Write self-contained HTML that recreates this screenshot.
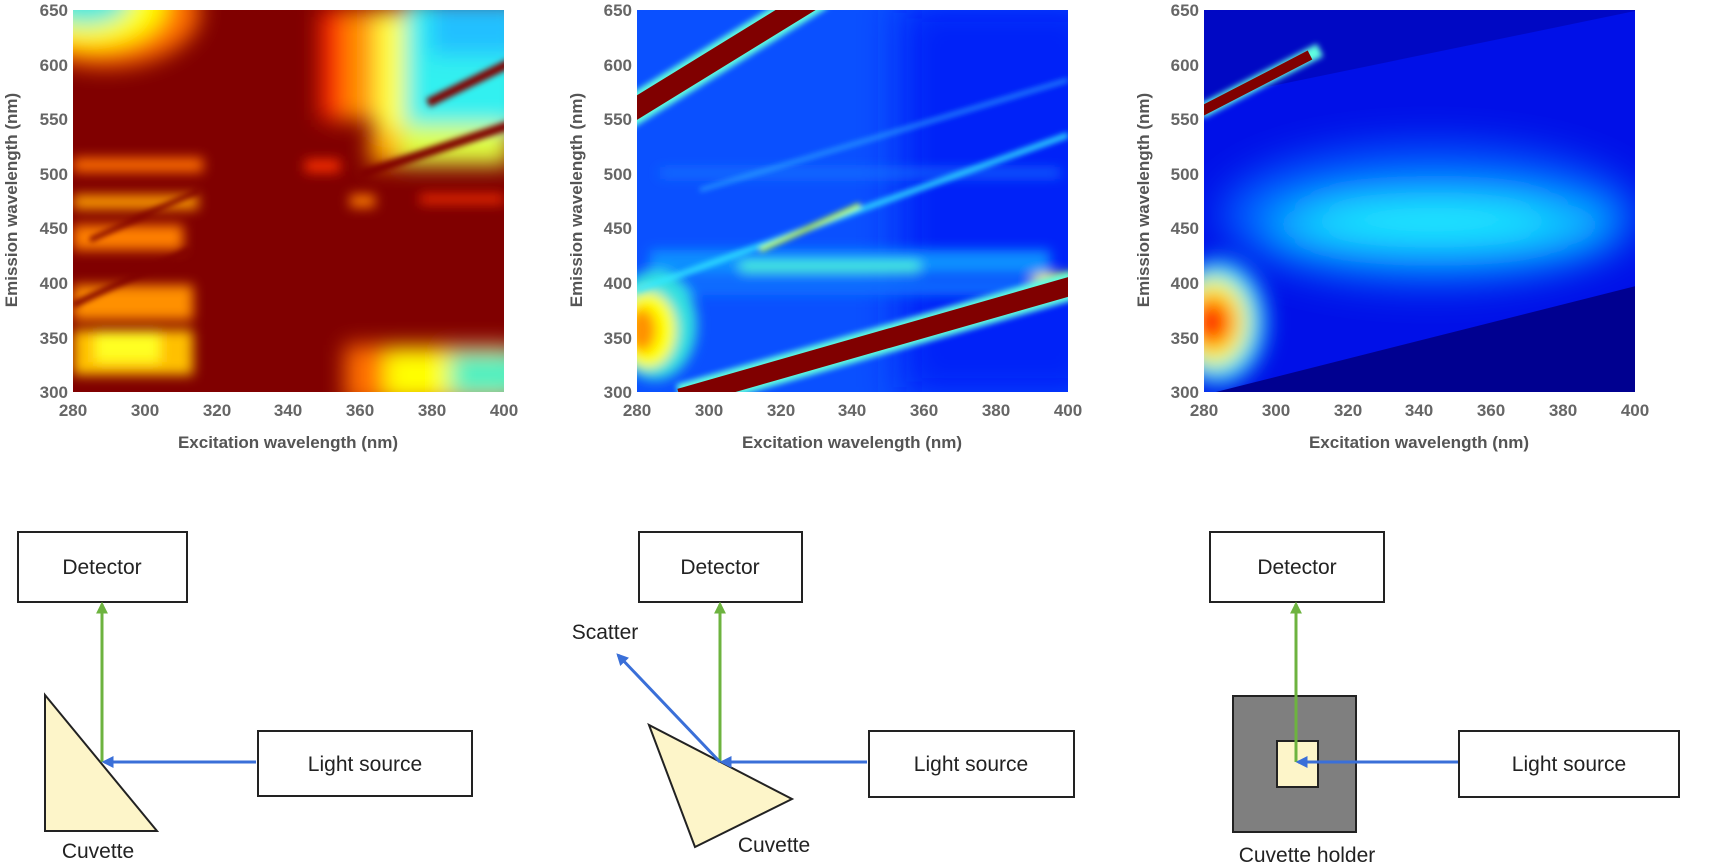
<!DOCTYPE html>
<html><head><meta charset="utf-8"><style>
html,body{margin:0;padding:0;background:#fff;}
svg{display:block;}
.t{font-family:"Liberation Sans",sans-serif;font-size:17px;fill:#666;font-weight:bold;}
.a{font-family:"Liberation Sans",sans-serif;font-size:17px;fill:#555;font-weight:bold;}
.d{font-family:"Liberation Sans",sans-serif;font-size:21px;fill:#222;}
</style></head><body>
<svg width="1716" height="868" viewBox="0 0 1716 868" xmlns="http://www.w3.org/2000/svg">
<defs>
<filter id="b6" x="-50%" y="-50%" width="200%" height="200%"><feGaussianBlur stdDeviation="6"/></filter>
<filter id="b3" x="-50%" y="-50%" width="200%" height="200%"><feGaussianBlur stdDeviation="3"/></filter>
<filter id="b12" x="-50%" y="-50%" width="200%" height="200%"><feGaussianBlur stdDeviation="11"/></filter>
<filter id="b20" x="-50%" y="-50%" width="200%" height="200%"><feGaussianBlur stdDeviation="20"/></filter>
<clipPath id="c1"><rect x="73" y="10" width="431" height="382"/></clipPath>
<clipPath id="c2"><rect x="637" y="10" width="431" height="382"/></clipPath>
<clipPath id="c3"><rect x="1204" y="10" width="431" height="382"/></clipPath>
<marker id="ag" viewBox="0 0 10 10" refX="8" refY="5" markerWidth="4" markerHeight="4" orient="auto"><path d="M0,0L10,5L0,10z" fill="#6db33f"/></marker>
<marker id="ab" viewBox="0 0 10 10" refX="8" refY="5" markerWidth="4" markerHeight="4" orient="auto"><path d="M0,0L10,5L0,10z" fill="#3a6fd8"/></marker>
</defs>

<!-- Plot 1 -->
<g clip-path="url(#c1)">
<rect x="73" y="10" width="431" height="382" fill="#800000"/>
<g filter="url(#b12)">
<ellipse cx="105" cy="12" rx="95" ry="55" fill="#ff7000"/>
<ellipse cx="95" cy="5" rx="72" ry="42" fill="#ffff00"/>
<ellipse cx="85" cy="0" rx="45" ry="25" fill="#40e8e0"/>
<rect x="320" y="10" width="60" height="110" fill="#ff3000"/>
<rect x="345" y="10" width="50" height="110" fill="#ff9000"/>
<rect x="375" y="10" width="40" height="120" fill="#ffff40"/>
<rect x="405" y="0" width="120" height="130" fill="#30f0f0"/>
<rect x="430" y="0" width="90" height="55" fill="#20c0ff"/>
<rect x="370" y="130" width="140" height="35" fill="#ffb000"/>
<rect x="400" y="125" width="110" height="40" fill="#e0ff40"/>
<rect x="345" y="345" width="170" height="60" fill="#ff7000"/>
<rect x="385" y="350" width="130" height="50" fill="#ffff00"/>
<rect x="450" y="352" width="80" height="45" fill="#50f0c0"/>
</g>
<g filter="url(#b6)">
<rect x="73" y="158" width="130" height="14" fill="#ff7000"/>
<rect x="73" y="195" width="125" height="14" fill="#ffa000"/>
<rect x="73" y="225" width="110" height="25" fill="#ff8000"/>
<rect x="73" y="285" width="120" height="35" fill="#ff9000"/>
<rect x="73" y="330" width="120" height="45" fill="#ffc000"/>
<rect x="95" y="332" width="65" height="30" fill="#ffff20"/>
<rect x="305" y="160" width="35" height="12" fill="#ff3000"/>
<rect x="350" y="195" width="25" height="12" fill="#ff8000"/>
<rect x="420" y="195" width="84" height="8" fill="#ff3000"/>
</g>
<g filter="url(#b3)">
<line x1="428" y1="103" x2="510" y2="63" stroke="#800000" stroke-width="9"/>
<line x1="360" y1="175" x2="510" y2="125" stroke="#800000" stroke-width="9"/>
<line x1="73" y1="305" x2="190" y2="250" stroke="#800000" stroke-width="6"/>
<line x1="90" y1="240" x2="200" y2="190" stroke="#800000" stroke-width="5"/>
</g>
</g>

<!-- Plot 2 -->
<g clip-path="url(#c2)">
<rect x="637" y="10" width="431" height="382" fill="#0a50ff"/>
<g filter="url(#b20)"><rect x="900" y="0" width="200" height="400" fill="#0020f8"/></g>
<g filter="url(#b6)">
<rect x="650" y="250" width="400" height="25" fill="#1090ff"/>
<rect x="740" y="262" width="180" height="10" fill="#50ffd0"/>
<rect x="650" y="280" width="400" height="15" fill="#0a70ff"/>
<rect x="660" y="170" width="400" height="6" fill="#1a80ff"/>
<ellipse cx="655" cy="325" rx="42" ry="55" fill="#30e0e0"/>
<ellipse cx="648" cy="330" rx="28" ry="38" fill="#ffff00"/>
<ellipse cx="642" cy="330" rx="14" ry="22" fill="#ff9000"/>
<ellipse cx="1055" cy="280" rx="25" ry="6" fill="#ffff00"/>
</g>
<g filter="url(#b3)">
<line x1="637" y1="290" x2="1068" y2="135" stroke="#30e8ff" stroke-width="5"/>
<line x1="760" y1="250" x2="860" y2="205" stroke="#c0ff40" stroke-width="5"/>
<line x1="700" y1="190" x2="1068" y2="80" stroke="#30b0ff" stroke-width="3"/>
<line x1="620" y1="118" x2="820" y2="-5" stroke="#60ffe0" stroke-width="30"/>
<line x1="680" y1="398" x2="1075" y2="285" stroke="#60ffe0" stroke-width="28"/>
</g>
<line x1="620" y1="118" x2="820" y2="-5" stroke="#800000" stroke-width="21"/>
<line x1="680" y1="398" x2="1075" y2="285" stroke="#800000" stroke-width="19"/>
</g>

<!-- Plot 3 -->
<g clip-path="url(#c3)">
<rect x="1204" y="10" width="431" height="382" fill="#0010e8"/>
<g filter="url(#b20)">
<ellipse cx="1430" cy="215" rx="210" ry="70" fill="#0060ff"/>
<ellipse cx="1440" cy="225" rx="170" ry="32" fill="#10c8ff"/>
<ellipse cx="1430" cy="218" rx="120" ry="18" fill="#20f0ff"/>
</g>
<g filter="url(#b12)">
<ellipse cx="1218" cy="322" rx="48" ry="62" fill="#20e0ff"/>
<ellipse cx="1214" cy="322" rx="34" ry="44" fill="#ffff00"/>
<ellipse cx="1212" cy="322" rx="22" ry="26" fill="#ff2000"/>
</g>
<polygon points="1204,395 1640,285 1640,395" fill="#000090"/>
<polygon points="1204,10 1640,10 1204,100" fill="#000098" opacity="0.45"/>
<g filter="url(#b3)"><line x1="1200" y1="112" x2="1320" y2="50" stroke="#60ffe0" stroke-width="14"/></g>
<line x1="1200" y1="112" x2="1310" y2="55" stroke="#800000" stroke-width="10"/>
</g>

<g class="t" text-anchor="end">
<text x="68" y="16">650</text><text x="68" y="71">600</text><text x="68" y="125">550</text><text x="68" y="180">500</text><text x="68" y="234">450</text><text x="68" y="289">400</text><text x="68" y="344">350</text><text x="68" y="398">300</text>
<text x="632" y="16">650</text><text x="632" y="71">600</text><text x="632" y="125">550</text><text x="632" y="180">500</text><text x="632" y="234">450</text><text x="632" y="289">400</text><text x="632" y="344">350</text><text x="632" y="398">300</text>
<text x="1199" y="16">650</text><text x="1199" y="71">600</text><text x="1199" y="125">550</text><text x="1199" y="180">500</text><text x="1199" y="234">450</text><text x="1199" y="289">400</text><text x="1199" y="344">350</text><text x="1199" y="398">300</text>
</g>
<g class="t" text-anchor="middle">
<text x="73" y="416">280</text><text x="145" y="416">300</text><text x="217" y="416">320</text><text x="288" y="416">340</text><text x="360" y="416">360</text><text x="432" y="416">380</text><text x="504" y="416">400</text>
<text x="637" y="416">280</text><text x="709" y="416">300</text><text x="781" y="416">320</text><text x="852" y="416">340</text><text x="924" y="416">360</text><text x="996" y="416">380</text><text x="1068" y="416">400</text>
<text x="1204" y="416">280</text><text x="1276" y="416">300</text><text x="1348" y="416">320</text><text x="1419" y="416">340</text><text x="1491" y="416">360</text><text x="1563" y="416">380</text><text x="1635" y="416">400</text>
</g>
<g class="a" text-anchor="middle">
<text x="288" y="448">Excitation wavelength (nm)</text>
<text x="852" y="448">Excitation wavelength (nm)</text>
<text x="1419" y="448">Excitation wavelength (nm)</text>
<text transform="translate(17,200) rotate(-90)">Emission wavelength (nm)</text>
<text transform="translate(582,200) rotate(-90)">Emission wavelength (nm)</text>
<text transform="translate(1149,200) rotate(-90)">Emission wavelength (nm)</text>
</g>

<g stroke="#222" stroke-width="2" fill="#fff">
<rect x="18" y="532" width="169" height="70"/>
<rect x="258" y="731" width="214" height="65"/>
<polygon points="45,695 45,831 157,831" fill="#fdf5c9"/>
<rect x="639" y="532" width="163" height="70"/>
<rect x="869" y="731" width="205" height="66"/>
<polygon points="649,725 695,847 792,799" fill="#fdf5c9"/>
<rect x="1210" y="532" width="174" height="70"/>
<rect x="1459" y="731" width="220" height="66"/>
<rect x="1233" y="696" width="123" height="136" fill="#7f7f7f"/>
<rect x="1277" y="741" width="41" height="46" fill="#fdf5c9"/>
</g>
<g stroke-width="3" fill="none">
<line x1="102" y1="762" x2="102" y2="604" stroke="#6db33f" marker-end="url(#ag)"/>
<line x1="256" y1="762" x2="104" y2="762" stroke="#3a6fd8" marker-end="url(#ab)"/>
<line x1="720" y1="762" x2="720" y2="604" stroke="#6db33f" marker-end="url(#ag)"/>
<line x1="867" y1="762" x2="722" y2="762" stroke="#3a6fd8" marker-end="url(#ab)"/>
<line x1="720" y1="762" x2="618" y2="655" stroke="#3a6fd8" marker-end="url(#ab)"/>
<line x1="1296" y1="762" x2="1296" y2="604" stroke="#6db33f" marker-end="url(#ag)"/>
<line x1="1458" y1="762" x2="1298" y2="762" stroke="#3a6fd8" marker-end="url(#ab)"/>
</g>
<g class="d" text-anchor="middle">
<text x="102" y="574">Detector</text>
<text x="365" y="771">Light source</text>
<text x="98" y="858">Cuvette</text>
<text x="720" y="574">Detector</text>
<text x="971" y="771">Light source</text>
<text x="774" y="852">Cuvette</text>
<text x="605" y="639">Scatter</text>
<text x="1297" y="574">Detector</text>
<text x="1569" y="771">Light source</text>
<text x="1307" y="862">Cuvette holder</text>
</g>
</svg>
</body></html>
